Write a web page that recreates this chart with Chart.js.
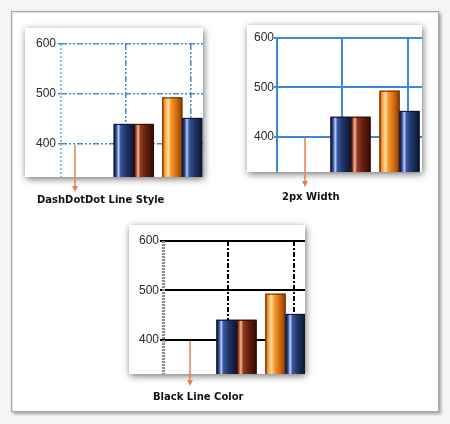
<!DOCTYPE html>
<html>
<head>
<meta charset="utf-8">
<script src="https://cdn.jsdelivr.net/npm/chart.js@4/dist/chart.umd.min.js"></script>
<style>
  html, body { margin: 0; padding: 0; background: #f5f5f5; }
  body { width: 450px; height: 424px; position: relative; overflow: hidden; }
  #frame {
    position: absolute; left: 11px; top: 11px; width: 426px; height: 399px;
    background: #fff; border: 1px solid #a8a8a8;
    box-shadow: 2px 2px 3px rgba(0,0,0,0.35), inset 1px 1px 0 #e4e4e4;
  }
  .panel {
    position: absolute; background: #fff; overflow: hidden;
    box-shadow: 1px 2px 7px rgba(0,0,0,0.55);
  }
  .panel canvas { position: absolute; left: 0; top: 0; }
  .caption {
    position: absolute; font: bold 10px "DejaVu Sans", Verdana, sans-serif;
    color: #111; white-space: nowrap; line-height: 12px;
  }
  #arrows { position: absolute; left: 0; top: 0; }
</style>
</head>
<body>
<div id="frame"></div>

<div class="panel" style="left:25px;top:28px;width:178px;height:149px"><canvas id="chart1"></canvas></div>
<div class="panel" style="left:247px;top:25px;width:175px;height:147px"><canvas id="chart2"></canvas></div>
<div class="panel" style="left:129px;top:225px;width:176px;height:149px"><canvas id="chart3"></canvas></div>

<svg id="arrows" width="450" height="424">
  <g stroke="#e2804f" stroke-width="1.5" fill="#e2804f">
    <line x1="75" y1="145" x2="75" y2="187" />
    <polygon points="72,186 78,186 75,192" stroke="none" />
    <line x1="305" y1="138" x2="305" y2="182" />
    <polygon points="302,181 308,181 305,187" stroke="none" />
    <line x1="190" y1="341" x2="190" y2="381" />
    <polygon points="187,380 193,380 190,386" stroke="none" />
  </g>
</svg>

<div class="caption" style="left:37px;top:194px">DashDotDot Line Style</div>
<div class="caption" style="left:282px;top:191px">2px Width</div>
<div class="caption" style="left:153px;top:391px">Black Line Color</div>

<script>
// data
const categories = ['', 'A', 'B', ''];
const frontValues = [null, 440, 493, null];
const backValues = [null, 440, 452, null];
const yTicks = [400, 500, 600];
const yMin = 300;
const yMax = 600;

// bar tones (style only)
const frontTones = [null, 'navy', 'orange', null];
const backTones = [null, 'brown', 'navy', null];

const shades = {
    navy: [[0, '#15214a'], [0.12, '#2c4585'], [0.24, '#b9d1ff'], [0.34, '#3b58a0'], [0.6, '#203669'], [1, '#0c1531']],
    brown: [[0, '#45120a'], [0.1, '#8a3a22'], [0.22, '#f2bca4'], [0.33, '#963a1f'], [0.6, '#66200e'], [1, '#360b04']],
    orange: [[0, '#c25c0a'], [0.14, '#f3a444'], [0.3, '#ffdc98'], [0.44, '#f49a2e'], [0.72, '#d06a0e'], [1, '#8c3c02']]
};
const outline = { navy: '#0c1430', brown: '#300a04', orange: '#6a2c00' };

// draw the cylinder shading on top of every bar, using the bar elements' own geometry
const barShine = {
    id: 'barShine',
    afterDatasetsDraw(chart) {
        const ctx = chart.ctx;
        chart.data.datasets.forEach((ds, i) => {
            chart.getDatasetMeta(i).data.forEach((bar, j) => {
                const tone = ds.tones[j];
                if (!tone || ds.data[j] == null) return;
                const { x, y, base, width } = bar.getProps(['x', 'y', 'base', 'width'], true);
                const left = x - width / 2;
                const g = ctx.createLinearGradient(left, 0, left + width, 0);
                shades[tone].forEach(([p, c]) => g.addColorStop(p, c));
                ctx.save();
                ctx.fillStyle = g;
                ctx.fillRect(left, y, width, base - y);
                ctx.strokeStyle = outline[tone];
                ctx.lineWidth = 1;
                ctx.strokeRect(left + 0.5, y + 0.5, width - 1, base - y);
                ctx.restore();
            });
        });
    }
};

const panels = [
    {
        id: 'chart1', axisWidth: 36, padTop: 16, catWidth: 48.5, per100: 50, tickPad: 2,
        hColor: '#3d89d6', hWidth: 1.5, hDash: [6, 2, 2, 2, 2, 2],
        vColor: '#3d89d6', vWidth: 1.5, vDash: [6, 2, 2, 2, 2, 2],
        axisColor: '#8fbbe8', axisLineWidth: 2, axisDash: [2, 2]
    },
    {
        id: 'chart2', axisWidth: 30, padTop: 13, catWidth: 49.1, per100: 49.3, tickPad: 0,
        hColor: '#3b88e0', hWidth: 2, hDash: [],
        vColor: '#3b88e0', vWidth: 2, vDash: [],
        axisColor: null
    },
    {
        id: 'chart3', axisWidth: 34, padTop: 16, catWidth: 49, per100: 49.3, tickPad: 1,
        hColor: '#000000', hWidth: 2, hDash: [],
        vColor: '#000000', vWidth: 2, vDash: [5, 2, 2, 2],
        axisColor: '#8c8c8c', axisLineWidth: 3, axisDash: [2, 1]
    }
];

function buildScales(p) {
    const scales = {
        x: { type: 'category', display: false, offset: true },
        y: {
            min: yMin,
            max: yMax,
            ticks: {
                stepSize: 100,
                padding: p.tickPad,
                color: '#2a2a2a',
                font: { family: 'Liberation Sans', size: 12 },
                callback: v => yTicks.includes(v) ? String(v) : null
            },
            grid: {
                color: p.hColor,
                lineWidth: p.hWidth,
                tickLength: 3,
                tickColor: p.hColor,
                tickWidth: p.hWidth
            },
            border: { display: false, dash: p.hDash },
            afterFit: s => { s.width = p.axisWidth; }
        },
        xg: {
            type: 'linear',
            position: 'bottom',
            offset: false,
            min: 0,
            max: 3,
            ticks: { display: false, stepSize: 1 },
            grid: {
                offset: false,
                drawTicks: false,
                lineWidth: p.vWidth,
                color: c => (c.tick && c.tick.value === 0 && p.axisColor) ? 'rgba(0,0,0,0)' : p.vColor
            },
            border: { display: false, dash: p.vDash },
            afterFit: s => { s.height = 0; }
        }
    };

    if (p.axisColor) {
        scales.xl = {
            type: 'linear',
            position: 'bottom',
            offset: false,
            min: 0,
            max: 3,
            ticks: { display: false, stepSize: 3 },
            grid: {
                offset: false,
                drawTicks: false,
                lineWidth: p.axisLineWidth,
                color: c => (c.tick && c.tick.value === 0) ? p.axisColor : 'rgba(0,0,0,0)'
            },
            border: { display: false, dash: p.axisDash },
            afterFit: s => { s.height = 0; }
        };
    }
    return scales;
}

function makeChart(p, canvas) {
    return new Chart(canvas.getContext('2d'), {
        type: 'bar',
        data: {
            labels: categories,
            datasets: [
                {
                    data: frontValues,
                    tones: frontTones,
                    backgroundColor: frontTones.map(t => t ? outline[t] : 'rgba(0,0,0,0)'),
                    borderWidth: 0,
                    categoryPercentage: 40 / p.catWidth,
                    barPercentage: 1
                },
                {
                    data: backValues,
                    tones: backTones,
                    backgroundColor: backTones.map(t => t ? outline[t] : 'rgba(0,0,0,0)'),
                    borderWidth: 0,
                    categoryPercentage: 40 / p.catWidth,
                    barPercentage: 1
                }
            ]
        },
        options: {
            responsive: false,
            maintainAspectRatio: false,
            animation: false,
            layout: { padding: { top: p.padTop, left: 0, right: 0, bottom: 0 } },
            plugins: { legend: { display: false }, tooltip: { enabled: false } },
            scales: buildScales(p)
        },
        plugins: [barShine]
    });
}

panels.forEach(p => {
    const canvas = document.getElementById(p.id);
    const plotHeight = (yMax - yMin) * p.per100 / 100;
    canvas.width = Math.round(p.axisWidth + p.catWidth * categories.length);
    canvas.height = Math.round(p.padTop + plotHeight);

    let chart = makeChart(p, canvas);
    // the y axis keeps some room under the plot for its labels; grow the canvas by that much
    const extra = Math.round(p.padTop + plotHeight - chart.chartArea.bottom);
    if (extra > 0) {
        chart.destroy();
        canvas.width = Math.round(p.axisWidth + p.catWidth * categories.length);
        canvas.height = Math.round(p.padTop + plotHeight) + extra;
        chart = makeChart(p, canvas);
    }
});
</script>
</body>
</html>
